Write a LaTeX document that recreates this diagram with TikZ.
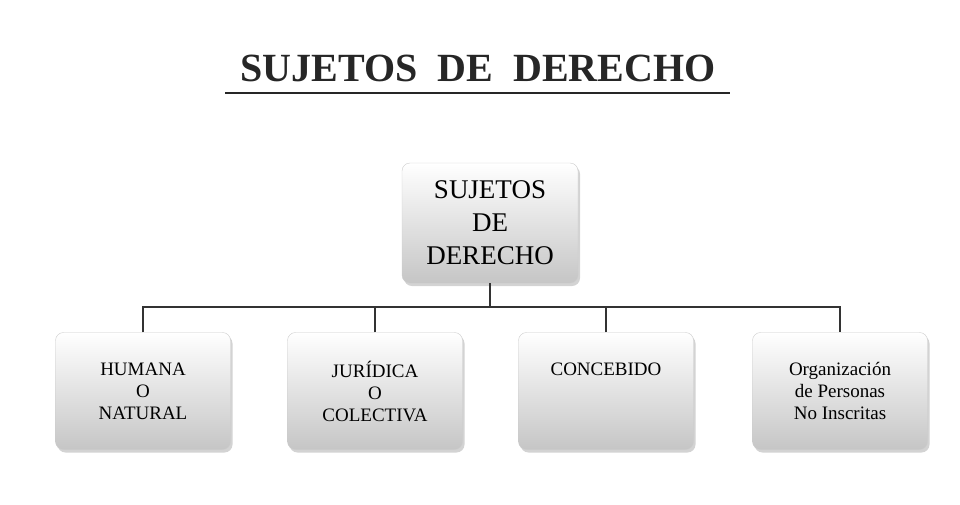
\documentclass[tikz,border=0pt]{standalone}
\usepackage{fontspec}
\setmainfont{Liberation Serif}
\usetikzlibrary{shadows}
\begin{document}
\begin{tikzpicture}[x=1pt,y=-1pt,
  box/.style={draw=gray!40, rounded corners=8pt, top color=white, bottom color=gray!45,
    minimum width=175pt, minimum height=117pt, align=center, font=\fontsize{19}{22}\selectfont,
    drop shadow={shadow xshift=2pt, shadow yshift=-3pt, opacity=0.35}},
  conn/.style={draw=black!80, line width=1.6pt}]
\useasboundingbox (0,0) rectangle (960,504);
\node[font=\fontsize{40}{44}\selectfont\bfseries, text=black!85] (title) at (478,68) {SUJETOS\ \ DE\ \ DERECHO};
\draw[line width=2pt, black!85] (225,93) -- (730,93);
\node[box, minimum width=176pt, minimum height=120pt, font=\fontsize{27}{33}\selectfont] (top) at (490,223) {SUJETOS\\DE\\DERECHO};
\node[box] (a) at (143,391) {HUMANA\\O\\NATURAL};
\node[box] (b) at (375,391) {JURÍDICA\\O\\COLECTIVA};
\node[box] (c) at (606,391) {CONCEBIDO\\[22pt]};
\node[box] (d) at (840,391) {Organización\\de Personas\\No Inscritas};
\coordinate (j) at (490,307);
\draw[conn] (top.south) -- (j);
\draw[conn] (a.north) |- (j) -| (d.north);
\draw[conn] (b.north) -- (b.north |- j);
\draw[conn] (c.north) -- (c.north |- j);
\end{tikzpicture}
\end{document}
